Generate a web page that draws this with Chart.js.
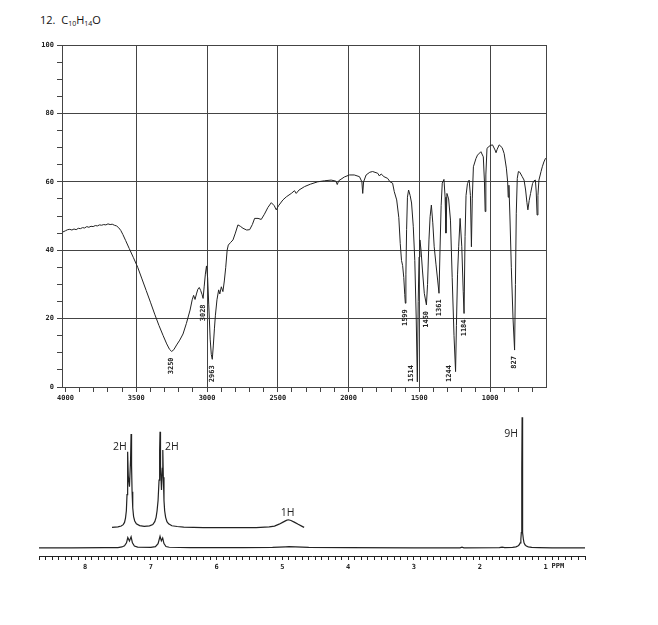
<!DOCTYPE html>
<html>
<head>
<meta charset="utf-8">
<script src="https://cdn.jsdelivr.net/npm/chart.js@4.4.0/dist/chart.umd.min.js"></script>
<style>
  body { margin: 0; background: #fff; width: 658px; height: 625px; position: relative; overflow: hidden; }
  #title { position: absolute; left: 40px; top: 12px; font: 11px 'Open Sans', sans-serif; color: #111; }
  #title sub { font-size: 7px; vertical-align: -2px; line-height: 0; }
  #irChart { position: absolute; left: 0; top: 0; }
  #nmrChart { position: absolute; left: 0; top: 400px; }
</style>
</head>
<body>
<div id="title">12.&nbsp; C<sub>10</sub>H<sub>14</sub>O</div>
<canvas id="irChart" width="658" height="410"></canvas>
<canvas id="nmrChart" width="658" height="190"></canvas>
<script>
// IR spectrum: wavenumber (cm-1) vs transmittance (%)
const irWavenumbers = [
  4020, 4000, 3985, 3970, 3955, 3940, 3925, 3910, 3895, 3880, 3865, 3850, 3835, 3820, 3805, 3790,
  3775, 3760, 3745, 3730, 3715, 3700, 3685, 3670, 3655, 3640, 3625, 3610, 3595, 3575, 3550, 3520,
  3490, 3460, 3430, 3400, 3370, 3340, 3310, 3285, 3265, 3250, 3235, 3215, 3193, 3170, 3146, 3120,
  3105, 3095, 3085, 3075, 3065, 3055, 3045, 3035, 3028, 3020, 3012, 3004, 2996, 2988, 2978, 2970,
  2963, 2956, 2948, 2941, 2930, 2918, 2910, 2899, 2888, 2878, 2868, 2858, 2850, 2835, 2817, 2800,
  2782, 2765, 2746, 2720, 2699, 2680, 2664, 2640, 2617, 2595, 2570, 2546, 2525, 2511, 2495, 2464,
  2440, 2405, 2382, 2370, 2350, 2311, 2270, 2218, 2170, 2123, 2090, 2080, 2070, 2030, 1994, 1960,
  1923, 1906, 1900, 1894, 1876, 1850, 1830, 1794, 1782, 1770, 1750, 1724, 1707, 1689, 1677, 1660,
  1645, 1635, 1626, 1618, 1610, 1603, 1599, 1595, 1590, 1584, 1576, 1565, 1555, 1543, 1532, 1522,
  1514, 1508, 1502, 1496, 1488, 1478, 1465, 1450, 1442, 1432, 1424, 1415, 1405, 1395, 1382, 1370,
  1361, 1354, 1346, 1338, 1326, 1318, 1312, 1305, 1293, 1280, 1268, 1255, 1244, 1238, 1230, 1222,
  1212, 1200, 1190, 1184, 1177, 1170, 1160, 1148, 1139, 1132, 1126, 1118, 1100, 1089, 1065, 1048,
  1040, 1035, 1030, 1022, 1000, 983, 965, 958, 950, 936, 915, 901, 885, 876, 872, 867,
  860, 850, 838, 827, 821, 815, 808, 800, 790, 773, 760, 749, 740, 733, 724, 714,
  700, 690, 680, 674, 668, 662, 655, 640, 631, 620, 608
];
const irTransmittance = [
  45.3, 45.7, 46.0, 46.1, 45.9, 46.2, 46.0, 46.4, 46.3, 46.6, 46.5, 46.9, 46.7, 47.0, 46.9, 47.2,
  47.1, 47.4, 47.3, 47.5, 47.4, 47.7, 47.5, 47.6, 47.3, 47.1, 46.6, 45.8, 44.6, 42.8, 40.5, 37.8,
  35.0, 31.6, 28.2, 24.8, 21.3, 18.0, 15.0, 12.6, 11.0, 10.4, 10.9, 12.3, 13.7, 15.5, 18.6, 22.5,
  25.5, 26.8, 25.6, 27.2, 28.6, 29.1, 28.2, 27.0, 25.9, 29.5, 33.0, 35.4, 32.0, 24.0, 14.0, 9.5,
  8.1, 12.0, 17.0, 21.0, 25.5, 28.4, 27.2, 29.3, 27.9, 31.0, 35.0, 40.0, 41.5, 42.2, 43.0, 45.0,
  47.4, 47.0, 46.4, 45.9, 46.0, 47.5, 49.3, 49.3, 49.0, 50.5, 52.5, 53.9, 53.0, 51.8, 53.0, 54.7,
  55.6, 56.6, 57.4, 56.6, 57.6, 58.6, 59.3, 60.0, 60.3, 60.5, 60.2, 59.2, 60.3, 61.4, 62.0, 62.0,
  61.5, 60.0, 56.6, 60.0, 62.0, 62.8, 63.0, 62.5, 61.7, 62.3, 61.5, 61.0, 60.0, 59.6, 57.1, 54.7,
  49.5, 42.0, 37.0, 35.5, 32.0, 27.0, 24.5, 33.0, 46.0, 55.5, 57.6, 56.0, 53.8, 47.0, 37.0, 20.0,
  1.5, 25.0, 38.0, 43.0, 40.0, 34.2, 27.4, 24.0, 30.0, 43.0, 49.8, 53.2, 48.0, 41.0, 35.7, 31.0,
  27.4, 40.0, 53.0, 59.6, 60.7, 55.5, 45.0, 56.6, 55.0, 48.8, 32.0, 15.0, 4.5, 18.0, 33.0, 41.0,
  49.3, 41.0, 28.0, 21.5, 44.0, 56.0, 59.5, 60.5, 56.0, 41.0, 55.0, 64.4, 66.8, 67.8, 68.8, 67.3,
  60.0, 51.3, 62.0, 69.8, 70.6, 70.8, 69.3, 68.5, 69.5, 70.8, 70.0, 68.3, 64.0, 60.0, 55.5, 59.0,
  50.0, 35.0, 20.0, 10.8, 30.0, 50.8, 61.0, 63.0, 62.8, 61.5, 60.5, 57.6, 54.0, 51.8, 54.5, 56.6,
  59.5, 60.3, 60.5, 57.0, 50.3, 56.0, 60.5, 63.0, 64.4, 65.8, 66.9
];
const irPeakLabels = [3250, 3028, 2963, 1599, 1514, 1450, 1361, 1244, 1184, 827];
const irAxisLabels = [4000, 3500, 3000, 2500, 2000, 1500, 1000];
const irPercentLabels = [0, 20, 40, 60, 80, 100];

// 1H NMR: full trace and the raised expansion of the 7.6 - 4.7 ppm region
const nmrPpm = [
  8.70, 8.20, 7.70, 7.50, 7.44, 7.40, 7.37, 7.35, 7.325, 7.30, 7.28, 7.25, 7.20, 7.00, 6.93, 6.89,
  6.86, 6.84, 6.82, 6.80, 6.77, 6.72, 6.40, 5.60, 5.15, 4.95, 4.90, 4.80, 4.60, 4.00, 3.00, 2.30,
  2.27, 2.24, 1.70, 1.66, 1.62, 1.50, 1.45, 1.42, 1.40, 1.385, 1.375, 1.368, 1.363, 1.359, 1.356, 1.353,
  1.349, 1.344, 1.337, 1.327, 1.312, 1.292, 1.262, 1.21, 1.10, 0.90, 0.40
];
const nmrIntensity = [
  5.6, 5.6, 5.7, 5.8, 6.2, 7.0, 9.0, 12.6, 10.3, 13.1, 9.0, 6.8, 6.1, 5.9, 6.4, 8.5,
  13.5, 10.4, 12.3, 8.5, 6.5, 6.0, 5.8, 5.7, 5.9, 6.3, 6.4, 6.2, 5.9, 5.7, 5.6, 5.6,
  6.1, 5.6, 5.7, 6.1, 5.8, 5.9, 6.3, 6.9, 7.7, 9.0, 11.5, 16.0, 28.0, 60.0, 95.0, 60.0,
  28.0, 16.0, 11.5, 9.0, 7.7, 6.9, 6.3, 5.9, 5.8, 5.6, 5.6
];
const nmrExpPpm = [
  7.59, 7.50, 7.45, 7.42, 7.40, 7.385, 7.372, 7.362, 7.355, 7.350, 7.343, 7.325, 7.308, 7.300, 7.293, 7.285,
  7.275, 7.262, 7.245, 7.22, 7.17, 7.10, 7.02, 6.97, 6.94, 6.92, 6.905, 6.89, 6.875, 6.866, 6.860, 6.853,
  6.838, 6.825, 6.818, 6.810, 6.80, 6.79, 6.775, 6.755, 6.73, 6.68, 6.60, 6.50, 6.20, 5.80, 5.40, 5.20,
  5.12, 5.05, 4.99, 4.94, 4.91, 4.87, 4.82, 4.76, 4.70, 4.67
];
const nmrExpIntensity = [
  19.6, 19.9, 20.5, 21.5, 23.0, 26.0, 31.0, 42.0, 60.0, 71.4, 55.0, 47.5, 66.0, 83.6, 62.0, 44.0,
  33.0, 27.0, 24.0, 22.0, 20.8, 20.3, 20.6, 21.5, 23.5, 26.5, 31.0, 38.0, 52.0, 72.0, 85.1, 62.0,
  45.2, 60.0, 72.6, 54.0, 38.0, 31.0, 26.5, 23.5, 22.0, 20.7, 20.2, 19.8, 19.5, 19.4, 19.5, 19.9,
  20.5, 21.8, 23.2, 24.4, 24.8, 24.3, 23.2, 21.7, 20.3, 19.6
];
const nmrAxisLabels = [8, 7, 6, 5, 4, 3, 2, 1];
const nmrIntegrals = ['2H', '2H', '1H', '9H'];
const nmrIntegralPpm = [7.365, 6.783, 4.92, 1.42];
const nmrIntegralLevel = [72.4, 72.4, 27.4, 81.7];
const nmrIntegralAlign = ['right', 'left', 'center', 'right'];

const tickFont = { family: "'DejaVu Sans Mono', monospace", size: 7, weight: 'bold' };
const inkColor = '#222';
const gridColor = '#444';

// right-hand border of the IR frame
const framePlugin = {
  id: 'frame',
  afterDraw(chart) {
    const { ctx, chartArea } = chart;
    ctx.save();
    ctx.strokeStyle = gridColor;
    ctx.lineWidth = 1;
    ctx.beginPath();
    ctx.moveTo(Math.round(chartArea.right) + 0.5, chartArea.top);
    ctx.lineTo(Math.round(chartArea.right) + 0.5, chartArea.bottom);
    ctx.stroke();
    ctx.restore();
  }
};

// vertical peak labels under the absorption minima
const irPeakLabelPlugin = {
  id: 'irPeakLabels',
  afterDatasetsDraw(chart) {
    const { ctx, chartArea, scales: { x, y } } = chart;
    ctx.save();
    ctx.font = "bold 7px 'DejaVu Sans Mono', monospace";
    ctx.fillStyle = inkColor;
    ctx.textAlign = 'right';
    ctx.textBaseline = 'middle';
    irPeakLabels.forEach(wn => {
      const i = irWavenumbers.indexOf(wn);
      const text = String(wn);
      const len = ctx.measureText(text).width;
      let px = x.getPixelForValue(wn);
      let py = y.getPixelForValue(irTransmittance[i]) + 6;
      if (py + len > chartArea.bottom - 3) {
        px -= 6;
        py = chartArea.bottom - 5 - len;
      }
      ctx.save();
      ctx.translate(px, py);
      ctx.rotate(-Math.PI / 2);
      ctx.fillText(text, 0, 0);
      ctx.restore();
    });
    ctx.restore();
  }
};

const nmrLabelPlugin = {
  id: 'nmrLabels',
  afterDatasetsDraw(chart) {
    const { ctx, chartArea, scales: { x, y } } = chart;
    ctx.save();
    ctx.fillStyle = inkColor;
    ctx.font = "10.5px 'Open Sans', sans-serif";
    ctx.textBaseline = 'alphabetic';
    nmrIntegrals.forEach((t, i) => {
      ctx.textAlign = nmrIntegralAlign[i];
      ctx.fillText(t, x.getPixelForValue(nmrIntegralPpm[i]), y.getPixelForValue(nmrIntegralLevel[i]));
    });
    ctx.font = "bold 7px 'DejaVu Sans Mono', monospace";
    ctx.textAlign = 'left';
    ctx.textBaseline = 'middle';
    ctx.fillText('PPM', x.getPixelForValue(1) + 6, chartArea.bottom + 10.5);
    ctx.restore();
  }
};

new Chart(document.getElementById('irChart'), {
  type: 'line',
  data: {
    datasets: [{
      data: irWavenumbers.map((w, i) => ({ x: w, y: irTransmittance[i] })),
      borderColor: inkColor,
      borderWidth: 1,
      pointRadius: 0,
      tension: 0,
      fill: false
    }]
  },
  options: {
    responsive: false,
    animation: false,
    events: [],
    layout: { padding: { left: 0, top: 45, right: 112, bottom: 5 } },
    plugins: { legend: { display: false }, tooltip: { enabled: false } },
    scales: {
      x: {
        type: 'linear',
        reverse: true,
        min: 605,
        max: 4025,
        afterFit: s => { s.height = 18; },
        // minor tick every 100 cm-1 between the 700 and 4000 marks
        afterBuildTicks: s => {
          const ticks = [];
          for (let v = 700; v <= 4000; v += 100) ticks.push({ value: v });
          s.ticks = ticks;
        },
        border: { display: true, color: gridColor, width: 1 },
        grid: {
          color: c => (c.tick && c.tick.value % 500 === 0 && c.tick.value !== 4000) ? gridColor : 'transparent',
          tickColor: gridColor,
          tickLength: 5
        },
        ticks: {
          autoSkip: false,
          maxRotation: 0,
          padding: 2,
          font: tickFont,
          color: inkColor,
          callback: v => irAxisLabels.includes(v) ? String(v) : ''
        }
      },
      y: {
        min: 0,
        max: 100,
        afterFit: s => { s.width = 62; },
        border: { display: true, color: gridColor, width: 1 },
        grid: {
          color: c => (c.tick && irPercentLabels.includes(c.tick.value)) ? gridColor : 'transparent',
          tickColor: gridColor,
          tickLength: 5
        },
        ticks: {
          stepSize: 5,
          autoSkip: false,
          padding: 3,
          font: tickFont,
          color: inkColor,
          callback: v => irPercentLabels.includes(v) ? String(v) : ''
        }
      }
    }
  },
  plugins: [framePlugin, irPeakLabelPlugin]
});

new Chart(document.getElementById('nmrChart'), {
  type: 'line',
  data: {
    datasets: [
      {
        data: nmrPpm.map((p, i) => ({ x: p, y: nmrIntensity[i] })),
        borderColor: inkColor,
        borderWidth: 1.2,
        pointRadius: 0,
        tension: 0,
        fill: false
      },
      {
        data: nmrExpPpm.map((p, i) => ({ x: p, y: nmrExpIntensity[i] })),
        borderColor: inkColor,
        borderWidth: 1.2,
        pointRadius: 0,
        tension: 0,
        fill: false
      }
    ]
  },
  options: {
    responsive: false,
    animation: false,
    events: [],
    layout: { padding: { left: 39, top: 10, right: 73, bottom: 14 } },
    plugins: { legend: { display: false }, tooltip: { enabled: false } },
    scales: {
      x: {
        type: 'linear',
        reverse: true,
        min: 0.4,
        max: 8.7,
        afterFit: s => { s.height = 20; },
        border: { display: true, color: inkColor, width: 1 },
        grid: { drawOnChartArea: false, drawTicks: true, tickLength: 4, tickColor: inkColor },
        ticks: {
          stepSize: 0.1,
          autoSkip: false,
          maxRotation: 0,
          padding: 3,
          font: tickFont,
          color: inkColor,
          callback: v => nmrAxisLabels.includes(Math.round(v * 10) / 10) ? String(Math.round(v)) : ''
        }
      },
      y: { display: false, min: 0, max: 100 }
    }
  },
  plugins: [nmrLabelPlugin]
});
</script>
</body>
</html>
